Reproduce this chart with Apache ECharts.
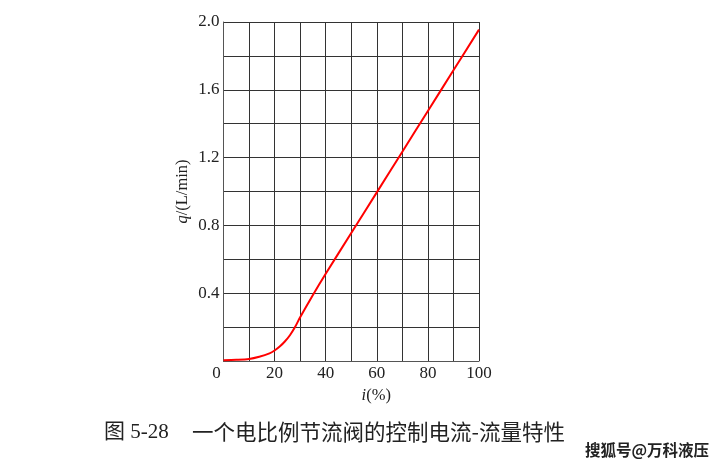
<!DOCTYPE html>
<html><head><meta charset="utf-8">
<script src="https://cdn.jsdelivr.net/npm/echarts@6/dist/echarts.min.js"></script>
<style>html,body{margin:0;padding:0;background:#fff}#c{width:723px;height:467px}</style>
</head><body><div id="c"></div>
<script>
const currentPct = [0, 5, 10, 14, 18, 20, 22, 24, 26, 28, 30, 35, 40, 50, 60, 70, 80, 90, 100];
const flowLmin = [0.005, 0.007, 0.012, 0.025, 0.045, 0.062, 0.085, 0.115, 0.152, 0.2, 0.258, 0.39, 0.515, 0.755, 0.995, 1.235, 1.475, 1.715, 1.955];
const yTicks = [0.4, 0.8, 1.2, 1.6, 2.0];
const xTicks = [0, 20, 40, 60, 80, 100];
const captionNo = '图 5-28';
const captionText = '一个电比例节流阀的控制电流-流量特性';
const watermark = '搜狐号@万科液压';

const chart = echarts.init(document.getElementById('c'));
const serif = '"Liberation Serif","DejaVu Serif",serif';
chart.setOption({
  animation: false,
  backgroundColor: '#fff',
  grid: {left: 223.5, right: 244, top: 22, bottom: 106},
  xAxis: {
    type: 'value', min: 0, max: 100, interval: 10,
    axisLine: {show: true, lineStyle: {color: '#555', width: 1}},
    axisTick: {show: false},
    splitLine: {show: true, lineStyle: {color: '#333', width: 1}},
    axisLabel: {
      color: '#222', fontFamily: serif, fontSize: 17, margin: 4,
      formatter: v => {
        const r = Math.round(v);
        if (!xTicks.includes(r)) return '';
        return r === 0 ? '{z|0}' : String(r);
      },
      rich: {z: {fontFamily: serif, fontSize: 17, color: '#222', padding: [0, 14, 0, 0]}}
    },
    name: '{i|i}(%)', nameLocation: 'middle', nameGap: 18,
    nameTextStyle: {
      color: '#222', fontFamily: serif, fontSize: 16.5, padding: [0, 0, 0, 50],
      rich: {i: {fontStyle: 'italic', fontFamily: serif, fontSize: 16.5, color: '#222'}}
    }
  },
  yAxis: {
    type: 'value', min: 0, max: 2.0, interval: 0.2,
    axisLine: {show: true, lineStyle: {color: '#555', width: 1}},
    axisTick: {show: false},
    splitLine: {show: true, lineStyle: {color: '#333', width: 1}},
    axisLabel: {
      color: '#222', fontFamily: serif, fontSize: 17, margin: 4,
      formatter: v => {
        const r = Math.round(v * 10) / 10;
        return yTicks.some(t => Math.abs(t - r) < 1e-6) ? r.toFixed(1) : '';
      }
    },
    name: '{q|q}/(L/min)', nameLocation: 'middle', nameGap: 32,
    nameTextStyle: {
      color: '#222', fontFamily: serif, fontSize: 16.5,
      rich: {q: {fontStyle: 'italic', fontFamily: serif, fontSize: 16.5, color: '#222'}}
    }
  },
  series: [{
    type: 'line', smooth: 0.3, symbol: 'none',
    lineStyle: {color: '#ff0000', width: 2},
    data: currentPct.map((x, i) => [x, flowLmin[i]])
  }],
  graphic: [
    {type: 'text', left: 104, top: 422, style: {text: captionNo, font: '21px "Liberation Serif","Noto Sans CJK SC",serif', fill: '#222'}},
    {type: 'text', left: 192, top: 421, style: {text: captionText, font: '21.5px "Noto Sans CJK SC","Liberation Serif",serif', fill: '#222'}},
    {type: 'text', left: 585, top: 442, style: {text: watermark, font: 'bold 15.5px "Noto Sans CJK SC",sans-serif', fill: '#222'}}
  ]
});
</script></body></html>
